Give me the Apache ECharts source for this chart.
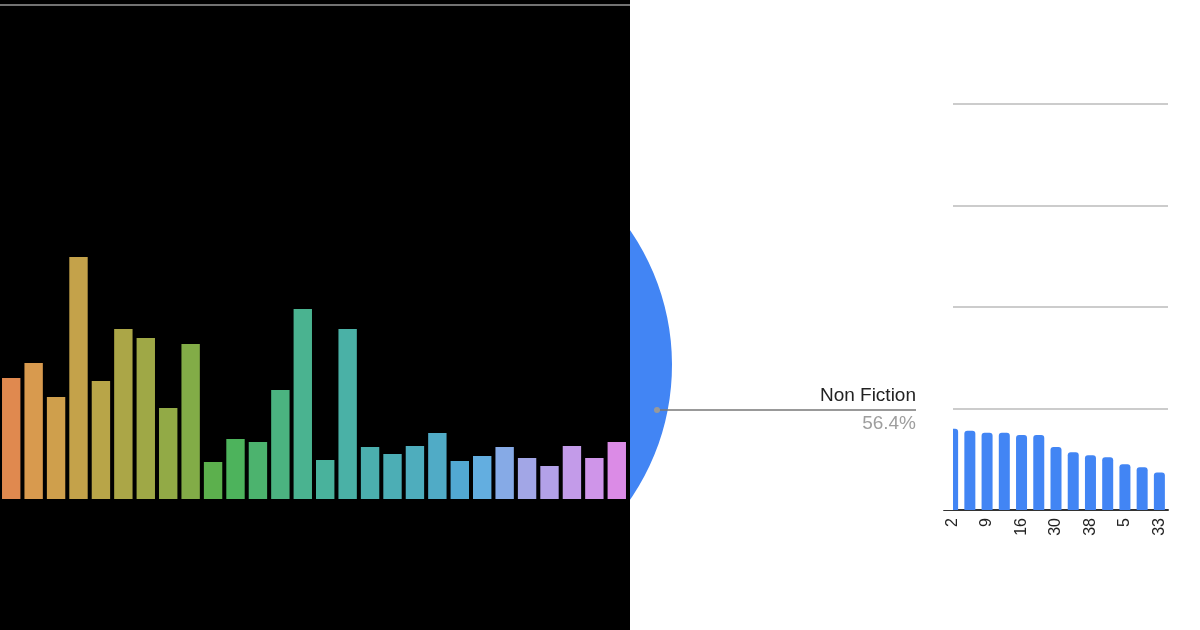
<!DOCTYPE html>
<html><head><meta charset="utf-8">
<script src="https://cdn.jsdelivr.net/npm/echarts@6/dist/echarts.min.js"></script>
<style>html,body{margin:0;background:#fff}#c{width:1200px;height:630px}</style></head>
<body><div id="c"></div>
<script>
const locations = ['Jayanagar','JP Nagar','Bannerghatta Road','BTM','Electronic City','HSR','Marathahalli','Sarjapur Road','Koramangala 5th Block','Richmond Road','Koramangala 7th Block','Koramangala 4th Block','Bellandur','Whitefield','Old Airport Road','Indiranagar','Koramangala 1st Block','Frazer Town','MG Road','Brigade Road','Lavelle Road','Church Street','Ulsoor','Residency Road','Domlur','Malleshwaram','Kammanahalli','Koramangala 6th Block'];
const locationCounts = [121,136,102,242,118,170,161,91,155,37,60,57,109,190,39,170,52,45,53,66,38,43,52,41,33,53,41,57];
const pieNames = ['Non Fiction','Other'];
const pieValues = [56.4,43.6];
const smallCats = ['2','22','9','12','16','27','30','3','38','41','5','18','33'];
const smallValues = [8.0,7.8,7.6,7.6,7.4,7.4,6.2,5.7,5.4,5.2,4.5,4.2,3.7];

const colors = ['#e0894f','#d89a4e','#cf9f4c','#c4a24a','#b8a548','#aba647','#9fa846','#92aa46','#82ac47','#5cb04d','#4db35c','#4cb36e','#4bb380','#4ab390','#49b29c','#4ab1a6','#4bafae','#4caeb5','#4eadbd','#50abc6','#52a8d2','#63aee0','#86aae6','#a2a6e6','#b3a1e8','#c39be9','#cf95e9','#db8be6'];

const chart = echarts.init(document.getElementById('c'));
chart.setOption({
  animation:false,
  backgroundColor:'#ffffff',
  graphic:[
    {type:'rect',z:5,shape:{x:0,y:0,width:630,height:630},style:{fill:'#000'}},
    {type:'line',z:6,shape:{x1:0,y1:5,x2:630,y2:5},style:{stroke:'#999',lineWidth:1.5}},
    {type:'rect',z:50,shape:{x:936,y:90,width:17,height:420},style:{fill:'#fff'}},
    {type:'line',z:6,shape:{x1:657,y1:410,x2:916,y2:410},style:{stroke:'#777',lineWidth:1.5}},
    {type:'circle',z:6,shape:{cx:657,cy:410,r:3},style:{fill:'#999'}},
    {type:'text',z:6,style:{x:916,y:405,text:pieNames[0],align:'right',verticalAlign:'bottom',fontFamily:'Arial, Liberation Sans',fontSize:19,fill:'#222'}},
    {type:'text',z:6,style:{x:916,y:414,text:pieValues[0].toFixed(1)+'%',align:'right',verticalAlign:'top',fontFamily:'Arial, Liberation Sans',fontSize:19,fill:'#9e9e9e'}}
  ],
  grid:[
    {left:0,right:572,top:19,bottom:131},
    {left:944,right:32,top:104,bottom:120}
  ],
  xAxis:[
    {type:'category',gridIndex:0,data:locations,name:'LOCATION',nameLocation:'middle',nameGap:113,
     nameTextStyle:{color:'#ddd',fontSize:9,fontFamily:'DejaVu Sans'},
     axisLine:{lineStyle:{color:'#ddd',width:1.5}},axisTick:{show:true,alignWithLabel:true,length:4,lineStyle:{color:'#ddd'}},
     axisLabel:{rotate:90,interval:0,color:'#eee',fontSize:8.5,fontFamily:'DejaVu Sans',margin:6}},
    {type:'category',gridIndex:1,data:smallCats,
     axisLine:{lineStyle:{color:'#333',width:2}},axisTick:{show:false},
     axisLabel:{rotate:90,interval:1,color:'#222',fontSize:16,fontFamily:'Arial, Liberation Sans',margin:8}}
  ],
  yAxis:[
    {type:'value',gridIndex:0,min:0,max:480,show:false},
    {type:'value',gridIndex:1,min:0,max:40,interval:10,
     axisLine:{show:false},axisTick:{show:false},axisLabel:{show:false},
     splitLine:{lineStyle:{color:'#ccc',width:2}}}
  ],
  series:[
    {type:'pie',z:1,center:[434,365],radius:238,startAngle:101.5,clockwise:true,
     label:{show:false},labelLine:{show:false},
     data:pieNames.map((n,i)=>({name:n,value:pieValues[i],itemStyle:{color:i===0?'#4285f4':'#db4437'}}))},
    {type:'bar',z:10,xAxisIndex:0,yAxisIndex:0,data:locationCounts.map((v,i)=>({value:v,itemStyle:{color:colors[i]}})),barCategoryGap:'18%'},
    {type:'bar',z:10,xAxisIndex:1,yAxisIndex:1,data:smallValues,barWidth:11,
     itemStyle:{color:'#4285f4',borderRadius:[3,3,0,0]}}
  ]
});
</script></body></html>
